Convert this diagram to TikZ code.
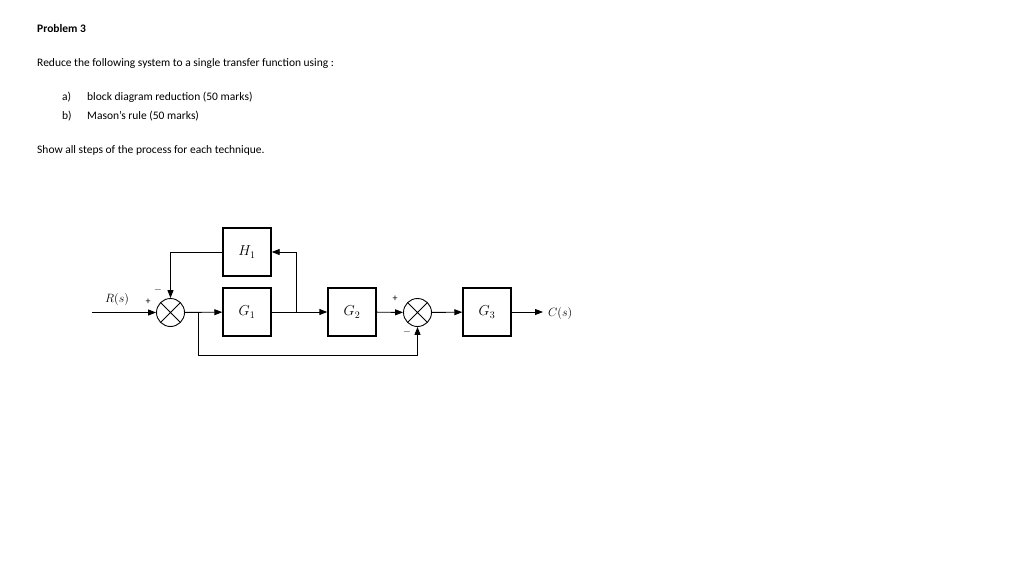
\documentclass[tikz,border=0pt]{standalone}
\usepackage{fontspec}
\setmainfont{Carlito}
\newfontfamily\tms{Liberation Serif}
\usetikzlibrary{arrows.meta}
\begin{document}
\begin{tikzpicture}[x=1pt,y=-1pt,
  blk/.style={draw,line width=1.4pt,minimum width=48pt,minimum height=48pt,inner sep=0pt,font=\tms\fontsize{14}{16}\selectfont},
  sumj/.style={draw,circle,line width=0.9pt,minimum size=28pt,inner sep=0pt,path picture={\draw[line width=0.9pt] (path picture bounding box.north west)--(path picture bounding box.south east) (path picture bounding box.north east)--(path picture bounding box.south west);}},
  sig/.style={line width=0.9pt},
  arr/.style={sig,-{Triangle[length=8pt,width=6pt]}},
  txt/.style={anchor=west,inner sep=0pt,font=\fontsize{11.5}{13}\selectfont},
  sgn/.style={inner sep=0pt,font=\fontsize{10}{12}\selectfont},
  lab/.style={inner sep=0pt,font=\tms\fontsize{13}{15}\selectfont}]
\useasboundingbox (0,0) rectangle (1024,583);
\node[txt,font=\bfseries\fontsize{11.5}{13}\selectfont] (t0) at (37,29) {Problem 3};
\node[txt] (t1) at (37,63) {Reduce the following system to a single transfer function using :};
\node[txt] (t2a) at (62,97) {a)};
\node[txt] (t2) at (87,97) {block diagram reduction (50 marks)};
\node[txt] (t3a) at (62,116) {b)};
\node[txt] (t3) at (87,116) {Mason's rule (50 marks)};
\node[txt] (t4) at (37,150) {Show all steps of the process for each technique.};

\node[sumj] (s1) at (170.5,312.5) {};
\node[blk] (g1) at (247,312) {$G_1$};
\node[blk] (h1) at (247,252) {$H_1$};
\node[blk] (g2) at (352,312) {$G_2$};
\node[sumj] (s2) at (417.5,312.5) {};
\node[blk] (g3) at (487,312) {$G_3$};
\coordinate (in) at (92,312.5);
\coordinate (out) at (543,312);
\coordinate (b1) at (296.5,312);
\coordinate (b2) at (198.5,312.5);
\node[lab] (r) at (117,299) {$R(s)$};
\node[lab,anchor=west] (c) at (548,313) {$C(s)$};
\node[sgn] (p1) at (148,302) {+};
\node[sgn] (m1) at (158,290) {$-$};
\node[sgn] (p2) at (395,299) {+};
\node[sgn] (m2) at (407,332) {$-$};

\draw[arr] (in) -- (s1);
\draw[arr] (s1) -- (g1);
\draw[arr] (g1) -- (g2);
\draw[arr] (g2) -- (s2);
\draw[arr] (s2) -- (g3);
\draw[arr] (g3) -- (out);
\draw[arr] (b1) |- (h1.east);
\draw[arr] (h1.west) -| (s1.north);
\draw[arr] (b2) |- (198.5,355) -| (s2.south);
\end{tikzpicture}
\end{document}
